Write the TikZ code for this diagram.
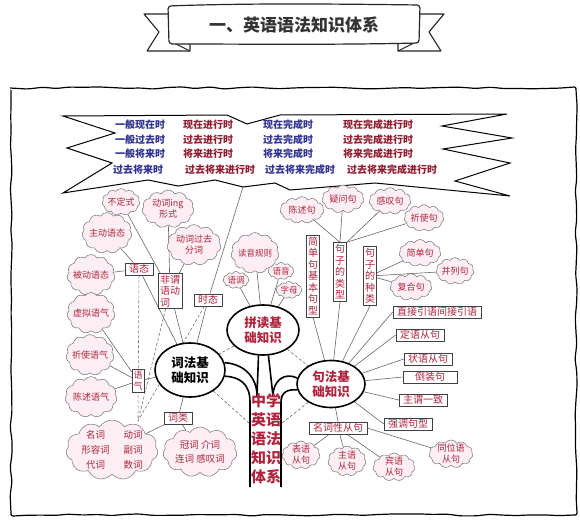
\documentclass[tikz,border=0pt]{standalone}
\usepackage{fontspec}
\newfontfamily\cjk{Noto Sans CJK SC}
\usetikzlibrary{shapes.symbols,shapes.geometric,decorations.pathmorphing}
\definecolor{tred}{HTML}{B0243E}
\definecolor{tblue}{HTML}{2E3190}
\definecolor{tmaroon}{HTML}{8E1B2E}
\definecolor{cfill}{HTML}{FCEEF2}
\pgfdeclarelayer{bg}
\pgfsetlayers{bg,main}
\begin{document}
\begin{tikzpicture}[x=1pt,y=-1pt,
  cl/.style={cloud, cloud puffs=11, cloud puff arc=115, draw=black!55, line width=0.5pt, fill=cfill, text=tred, font=\cjk\fontsize{9}{11}\selectfont, align=center, inner sep=-5pt},
  bx/.style={draw=black!75, line width=0.6pt, fill=white, text=tred, font=\cjk\fontsize{10}{11.5}\selectfont, inner xsep=4pt, inner ysep=1.5pt, align=center},
  vbx/.style={bx, inner xsep=1.5pt, inner ysep=2pt},
  ell/.style={ellipse, draw=black, line width=1.6pt, fill=white, font=\cjk\bfseries\fontsize{12.5}{14.5}\selectfont, align=center, inner sep=0pt},
  ln/.style={draw=black!60, line width=0.6pt},
  dl/.style={draw=black!55, line width=0.6pt, dash pattern=on 3pt off 2pt},
  trunkline/.style={draw=black, line width=1.6pt},
  tb/.style={text=tblue, font=\cjk\bfseries\fontsize{10}{11}\selectfont, inner sep=0pt},
  tr/.style={text=tmaroon, font=\cjk\bfseries\fontsize{10}{11}\selectfont, inner sep=0pt},
  banner/.style={draw=black!85, line width=1.1pt, fill=white, line join=round}
]
\useasboundingbox (0,0) rectangle (580,524);

% ---------- title banner ----------
\draw[banner] (174,14) -- (144,14) -- (159,32) -- (147,51) -- (190,51) -- (190,40);
\draw[banner] (172,42) -- (190,51);
\draw[banner] (414,14) -- (444,14) -- (429,32) -- (441,51) -- (398,51) -- (398,40);
\draw[banner] (416,42) -- (398,51);
\draw[banner, line width=1.2pt, rounded corners=3pt] (168,6) .. controls (250,3) and (340,4) .. (420,5) -- (419,43) .. controls (330,45) and (250,44) .. (169,44) -- cycle;
\node[font=\cjk\bfseries\fontsize{17}{20}\selectfont, text=black!80] (title) at (294,25) {一、英语语法知识体系};

% ---------- nodes ----------
% tenses
\node[tb] (t11) at (140,125) {一般现在时};
\node[tr] (t12) at (208,125) {现在进行时};
\node[tb] (t13) at (288,125) {现在完成时};
\node[tr] (t14) at (378,125) {现在完成进行时};
\node[tb] (t21) at (140,140) {一般过去时};
\node[tr] (t22) at (208,140) {过去进行时};
\node[tb] (t23) at (288,140) {过去完成时};
\node[tr] (t24) at (378,140) {过去完成进行时};
\node[tb] (t31) at (140,154) {一般将来时};
\node[tr] (t32) at (208,154) {将来进行时};
\node[tb] (t33) at (288,154) {将来完成时};
\node[tr] (t34) at (378,154) {将来完成进行时};
\node[tb] (t41) at (138,170) {过去将来时};
\node[tr] (t42) at (220,170) {过去将来进行时};
\node[tb] (t43) at (300,170) {过去将来完成时};
\node[tr] (t44) at (392,170) {过去将来完成进行时};

% left clouds
\node[cl, minimum width=38, minimum height=25] (bds) at (121,202) {不定式};
\node[cl, minimum width=52, minimum height=38] (ving) at (168,209) {动词ing\\形式};
\node[cl, minimum width=50, minimum height=27] (zd) at (107,233) {主动语态};
\node[cl, minimum width=54, minimum height=40] (gf) at (194,245) {动词过去\\分词};
\node[cl, minimum width=48, minimum height=26] (bd) at (91,275) {被动语态};
\node[cl, minimum width=48, minimum height=22] (xn) at (91,313) {虚拟语气};
\node[cl, minimum width=48, minimum height=25] (qs) at (90,355) {祈使语气};
\node[cl, minimum width=52, minimum height=32] (cs) at (91,397) {陈述语气};
\node[cl, minimum width=92, minimum height=60, inner sep=-14pt, font=\cjk\fontsize{9.5}{15}\selectfont] (wc1) at (112,450)
  {\begin{tabular}{@{}c@{\hspace{14pt}}c@{}}名词&动词\\形容词&副词\\代词&数词\end{tabular}};
\node[cl, minimum width=74, minimum height=50, inner sep=-9pt, font=\cjk\fontsize{9.5}{14}\selectfont] (wc2) at (200,452) {冠词\ 介词\\连词\ 感叹词};

% left boxes
\node[bx] (yt) at (139,269) {语态};
\node[bx, align=left, inner xsep=2pt] (fwy) at (170,291) {非谓\\语动\\词};
\node[bx] (ts) at (208,300) {时态};
\node[vbx, font=\cjk\fontsize{9}{11}\selectfont] (yq) at (138,381) {语\\气};
\node[bx] (clb) at (178,418) {词类};

% spelling clouds
\node[cl, minimum width=26, minimum height=17, inner sep=-4pt, font=\cjk\fontsize{8.5}{10}\selectfont] (yd) at (236,280) {语调};
\node[cl, minimum width=48, minimum height=20, inner sep=-4pt, font=\cjk\fontsize{8.5}{10}\selectfont] (dygz) at (255,253) {读音规则};
\node[cl, minimum width=26, minimum height=17, inner sep=-4pt, font=\cjk\fontsize{8.5}{10}\selectfont] (yy) at (281,271) {语音};
\node[cl, minimum width=26, minimum height=17, inner sep=-4pt, font=\cjk\fontsize{8.5}{10}\selectfont] (zm) at (289,290) {字母};

% right clouds
\node[cl, minimum width=44, minimum height=26] (csj) at (302,210) {陈述句};
\node[cl, minimum width=42, minimum height=28] (yw) at (343,199) {疑问句};
\node[cl, minimum width=42, minimum height=26] (gt) at (390,201) {感叹句};
\node[cl, minimum width=40, minimum height=24] (qsj) at (424,218) {祈使句};
\node[cl, minimum width=42, minimum height=27] (jdj) at (420,253) {简单句};
\node[cl, minimum width=38, minimum height=24] (bl) at (455,271) {并列句};
\node[cl, minimum width=42, minimum height=23] (fh) at (411,287) {复合句};
\node[cl, minimum width=38, minimum height=28] (byu) at (301,455) {表语\\从句};
\node[cl, minimum width=38, minimum height=30] (zyc) at (347,461) {主语\\从句};
\node[cl, minimum width=42, minimum height=28] (byc) at (394,467) {宾语\\从句};
\node[cl, minimum width=44, minimum height=28] (twy) at (451,454) {同位语\\从句};

% right boxes
\node[vbx] (jbjx) at (313,276) {简\\单\\句\\基\\本\\句\\型};
\node[vbx] (lx) at (340,272) {句\\子\\的\\类\\型};
\node[vbx] (zl) at (370,276) {句\\子\\的\\种\\类};
\node[bx] (zjyy) at (437,312) {直接引语间接引语};
\node[bx] (dy) at (420,335) {定语从句};
\node[bx] (zy) at (428,359) {状语从句};
\node[bx, minimum width=54] (dz) at (430,377) {倒装句};
\node[bx] (zwyz) at (423,400) {主谓一致};
\node[bx] (qd) at (408,424) {强调句型};
\node[bx] (mcx) at (338,428) {名词性从句};

% ellipses
\node[ell, minimum width=70, minimum height=54] (cf) at (190,370) {词法基\\础知识};
\node[ell, minimum width=72, minimum height=50, text=tred] (pd) at (263,330) {拼读基\\础知识};
\node[ell, minimum width=68, minimum height=47, text=tred] (jf) at (331,384) {句法基\\础知识};

% trunk text
\node[font=\cjk\bfseries\fontsize{15}{19}\selectfont, text=tred, align=center, inner sep=0pt] (trunk) at (266,439) {中学\\英语\\语法\\知识\\体系};

% coordinates
\coordinate (btail) at (243,187);
\coordinate (wtop) at (138,421);
\coordinate (tl) at (250,487);
\coordinate (tr) at (281,487);
\coordinate (dl1) at (250,424);
\coordinate (dr1) at (281,424);

% ---------- background: frame, bubble, connectors ----------
\begin{pgfonlayer}{bg}
\draw[decorate, decoration={random steps, segment length=14pt, amplitude=1.1pt}, line width=1.2pt, rounded corners=2pt] (11,88) rectangle (576,515);
\draw[line width=1pt, fill=white, line join=miter] (63,116) -- (227,115) -- (247,124) -- (280,115) -- (507,114) -- (442,126) -- (512,138) -- (443,149) -- (510,163) -- (455,181) -- (510,196) -- (375,183) -- (290,190) -- (275,183) -- (btail) -- (215,180) -- (178,186) -- (148,180) -- (63,193) -- (112,163) -- (67,148) -- (115,133) -- cycle;

% trunk
\draw[trunkline] (tl) -- (250,402) .. controls (250,384) and (240,377) .. (cf.-10);
\draw[trunkline] (cf.12) .. controls (245,364) and (257,378) .. (257,396) -- (pd.-100);
\draw[trunkline] (pd.-78) -- (273,396) .. controls (273,380) and (285,372) .. (jf.170);
\draw[trunkline] (tr) -- (281,402) .. controls (281,392) and (288,389) .. (jf.190);

% left connectors
\draw[ln] (btail) -- (ts);
\draw[ln] (bds) -- (fwy);
\draw[ln] (ving) -- (fwy);
\draw[ln] (gf) -- (fwy);
\draw[ln] (zd) -- (yt);
\draw[ln] (bd) -- (yt);
\draw[ln] (yt) -- (cf);
\draw[ln] (fwy) -- (cf);
\draw[ln] (ts) -- (cf);
\draw[ln] (xn) -- (yq);
\draw[ln] (qs) -- (yq);
\draw[ln] (cs) -- (yq);
\draw[ln] (yq) -- (cf);
\draw[ln] (clb) -- (cf);
\draw[ln] (clb) -- (wc1);
\draw[ln] (clb) -- (wc2);
\draw[dl] (yt) -- (wtop);
\draw[dl] (fwy) -- (wtop);
\draw[dl] (ts) -- (wtop);

% spelling connectors
\draw[ln] (yd) -- (pd);
\draw[ln] (dygz) -- (pd);
\draw[ln] (yy) -- (pd);
\draw[ln] (zm) -- (pd);

% dashed relations
\draw[dl] (pd) -- (cf);
\draw[dl] (pd) -- (jf);
\draw[dl] (cf) -- (dl1);
\draw[dl] (jf) -- (dr1);

% syntax connectors
\draw[ln] (csj) -- (lx.north);
\draw[ln] (yw) -- (lx.north);
\draw[ln] (gt) -- (lx.north east);
\draw[ln] (qsj) -- (lx.north east);
\draw[ln] (zl) -- (jdj);
\draw[ln] (zl) -- (bl);
\draw[ln] (zl) -- (fh);
\draw[ln] (jf) -- (jbjx.south);
\draw[ln] (jf) -- (lx.south);
\draw[ln] (jf) -- (zl.south);
\draw[ln] (jf) -- (zjyy.west);
\draw[ln] (jf) -- (dy.west);
\draw[ln] (jf) -- (zy.west);
\draw[ln] (jf) -- (dz.west);
\draw[ln] (jf) -- (zwyz.west);
\draw[ln] (jf) -- (qd.west);
\draw[ln] (jf) -- (mcx.north);
\draw[ln] (mcx) -- (byu);
\draw[ln] (mcx) -- (zyc);
\draw[ln] (mcx) -- (byc);
\draw[ln] (mcx.east) -- (twy);
\end{pgfonlayer}
\end{tikzpicture}
\end{document}
